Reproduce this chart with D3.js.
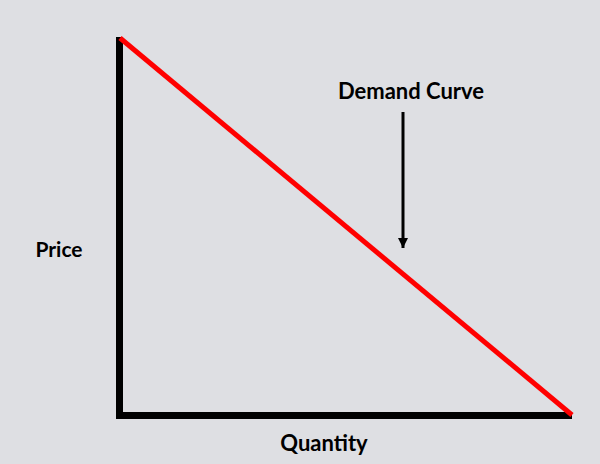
<!DOCTYPE html>
<html>
  <head>
    <meta charset="utf-8" />
    <style>
      body {
        margin: 0;
        background: #dedfe3;
      }
      svg {
        display: block;
      }
      .label {
        font-family: Lato, "Open Sans", sans-serif;
        font-weight: 700;
        fill: #000;
      }
    </style>
  </head>
  <body>
    <svg width="600" height="464"></svg>

    <script src="https://d3js.org/d3.v7.min.js"></script>
    <script>
      let width = 600;
      let height = 464;

      // demand curve: price falls as quantity rises
      let quantity = [0, 10];
      let price = [10, 0];

      let axisLabels = ["Quantity", "Price"];
      let curveLabel = "Demand Curve";

      let svg = d3.select("svg");

      let x = d3.scaleLinear().domain([0, 10]).range([120, 572]);
      let y = d3.scaleLinear().domain([0, 10]).range([415, 38]);

      // arrow head
      svg
        .append("defs")
        .append("marker")
        .attr("id", "head")
        .attr("viewBox", "0 0 10 10")
        .attr("refX", 10)
        .attr("refY", 5)
        .attr("markerWidth", 10)
        .attr("markerHeight", 10)
        .attr("markerUnits", "userSpaceOnUse")
        .attr("orient", "auto")
        .append("path")
        .attr("d", "M0,0L10,5L0,10Z")
        .attr("fill", "#000");

      // the L-shaped axes
      let frame = [
        [x(0) - 0.5, y(10) - 1],
        [x(0) - 0.5, y(0) + 0.5],
        [x(10), y(0) + 0.5],
      ];
      svg
        .append("path")
        .attr("d", d3.line()(frame))
        .attr("fill", "none")
        .attr("stroke", "#000")
        .attr("stroke-width", 7)
        .attr("stroke-linejoin", "miter");

      let points = quantity.map((q, i) => ({ q: q, p: price[i] }));

      svg
        .append("path")
        .datum(points)
        .attr(
          "d",
          d3
            .line()
            .x((d) => x(d.q))
            .y((d) => y(d.p))
        )
        .attr("fill", "none")
        .attr("stroke", "#ff0000")
        .attr("stroke-width", 5);

      // annotation
      svg
        .append("text")
        .attr("class", "label")
        .attr("x", 411)
        .attr("y", 99)
        .attr("text-anchor", "middle")
        .attr("font-size", 22)
        .text(curveLabel);

      svg
        .append("line")
        .attr("x1", 403)
        .attr("x2", 403)
        .attr("y1", 112)
        .attr("y2", 248)
        .attr("stroke", "#000")
        .attr("stroke-width", 3)
        .attr("marker-end", "url(#head)");

      svg
        .append("text")
        .attr("class", "label")
        .attr("x", 324)
        .attr("y", 451)
        .attr("text-anchor", "middle")
        .attr("font-size", 22)
        .text(axisLabels[0]);

      svg
        .append("text")
        .attr("class", "label")
        .attr("x", 59)
        .attr("y", 257)
        .attr("text-anchor", "middle")
        .attr("font-size", 21)
        .text(axisLabels[1]);
    </script>
  </body>
</html>
